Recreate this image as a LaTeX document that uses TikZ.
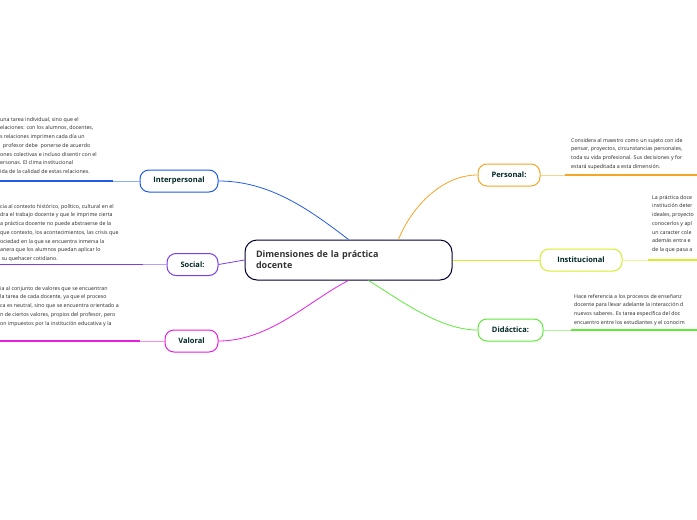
\documentclass[tikz,border=0pt]{standalone}
\usepackage{fontspec}
\setmainfont{Open Sans}
\begin{document}
\begin{tikzpicture}[x=1pt,y=-1pt,
  topic/.style={draw=#1,line width=1pt,rounded corners=9pt,minimum height=22pt,inner xsep=6pt,font=\fontsize{7.5}{9}\selectfont\bfseries,text=black!70!teal,fill=white},
  desc/.style={align=left,inner sep=0pt,font=\fontsize{5.3}{8.7}\selectfont,text=black!85},
  under/.style={draw=#1,line width=1.4pt},
  conn/.style={draw=#1,line width=0.8pt}]
\clip (0,0) rectangle (697,520);
\useasboundingbox (0,0) rectangle (697,520);
\fill[white] (0,0) rectangle (697,520);
\definecolor{cI}{HTML}{1F5BE8}\definecolor{cS}{HTML}{7A3FE8}\definecolor{cV}{HTML}{E81FE0}
\definecolor{cP}{HTML}{F5A623}\definecolor{cN}{HTML}{D6EC2C}\definecolor{cD}{HTML}{5EEB3A}
% center
\node[draw=black!80!blue,line width=1pt,rounded corners=12pt,minimum width=207pt,minimum height=40pt,text width=185pt,align=left,font=\fontsize{9}{11}\selectfont\bfseries,text=black!80] (c) at (348.5,260) {Dimensiones de la práctica\\docente};
% topics
\node[topic=cI,minimum width=78pt] (ti) at (179,181) {Interpersonal};
\node[topic=cS,minimum width=51pt] (ts) at (192.5,264.5) {Social:};
\node[topic=cV,minimum width=53pt] (tv) at (191.5,341) {Valoral};
\node[topic=cP,minimum width=62pt] (tp) at (509,175) {Personal:};
\node[topic=cN,minimum width=82pt] (tn) at (581,260) {Institucional};
\node[topic=cD,minimum width=65pt] (td) at (510.5,330) {Didáctica:};
% connectors
\draw[conn=cI] (ti.east) .. controls (270,181) and (310,210) .. (c.north);
\draw[conn=cS] (ts.east) -- (c.west);
\draw[conn=cV] (tv.east) .. controls (270,341) and (310,300) .. (c.south);
\draw[conn=cP] (tp.west) .. controls (440,175) and (410,210) .. ([xshift=50pt]c.north);
\draw[conn=cN] (c.east) -- (tn.west);
\draw[conn=cD] (td.west) .. controls (440,330) and (400,300) .. ([xshift=20pt]c.south);
% underlines
\coordinate (ui) at (0,181); \coordinate (us) at (0,264.5); \coordinate (uv) at (0,341);
\coordinate (up) at (697,175); \coordinate (un) at (697,260); \coordinate (ud) at (697,330);
\draw[under=cI] (ui) -- (113,181); \draw[conn=cI!50] (113,181) -- (ti.west);
\draw[under=cS] (us) -- (143,264.5); \draw[conn=cS!50] (143,264.5) -- (ts.west);
\draw[under=cV] (uv) -- (140,341); \draw[conn=cV!50] (140,341) -- (tv.west);
\draw[conn=cP!50] (tp.east) -- (565,175); \draw[under=cP] (565,175) -- (up);
\draw[conn=cN!50] (tn.east) -- (648,260); \draw[under=cN] (648,260) -- (un);
\draw[conn=cD!50] (td.east) -- (571,330); \draw[under=cD] (571,330) -- (ud);
% descriptions
\node[desc,anchor=north west] (di) at (0,117) {una tarea individual, sino que el\\elaciones: con los alumnos, docentes,\\s relaciones imprimen cada día un\\\ \ profesor debe\ \ ponerse de acuerdo\\ones colectivas e incluso disentir con el\\ersonas. El clima institucional\\ida de la calidad de estas relaciones.};
\node[desc,anchor=north west] (ds) at (0,204) {cia al contexto histórico, político, cultural en el\\dra el trabajo docente y que le imprime cierta\\a práctica docente no puede abstraerse de la\\que contexto, los acontecimientos, las crisis que\\ociedad en la que se encuentra inmersa la\\anera que los alumnos puedan aplicar lo\\\ su quehacer cotidiano.};
\node[desc,anchor=north west] (dv) at (0,286) {ia al conjunto de valores que se encuentran\\la tarea de cada docente, ya que el proceso\\ca es neutral, sino que se encuentra orientado a\\n de ciertos valores, propios del profesor, pero\\on impuestos por la institución educativa y la};
\node[desc,anchor=north west] (dp) at (571,138) {Considera al maestro como un sujeto con ide\\pensar, proyectos, circunstancias personales,\\toda su vida profesional. Sus decisiones y for\\estará supeditada a esta dimensión.};
\node[desc,anchor=north west] (dn) at (652,195) {La práctica doce\\institución deter\\ideales, proyecto\\conocerlos y apl\\un caracter cole\\además entra e\\de la que pasa a};
\node[desc,anchor=north west] (dd) at (574,294) {Hace referencia a los procesos de enseñanz\\docente para llevar adelante la interacción d\\nuevos saberes. Es tarea específica del doc\\encuentro entre los estudiantes y el conocim};
\end{tikzpicture}
\end{document}
